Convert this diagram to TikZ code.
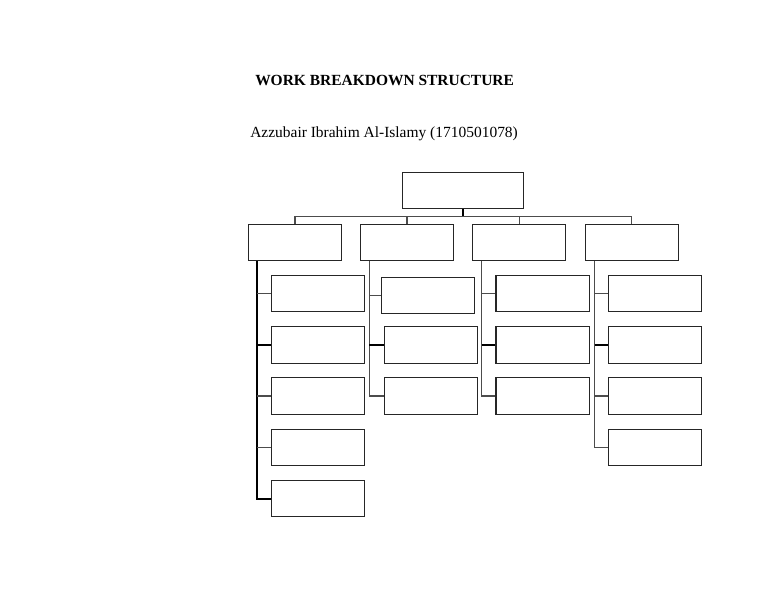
\documentclass[tikz,border=0pt]{standalone}
\usepackage{fontspec}
\setmainfont{Liberation Serif}
\tikzset{wbsbox/.style={draw=black!85,line width=0.8pt,inner sep=0pt,minimum width=69.8pt,minimum height=27.2pt}}
\tikzset{topbox/.style={wbsbox,minimum width=90.8pt}}
\tikzset{wbsline/.style={draw=black!70,line width=0.9pt}}
\tikzset{boldline/.style={draw=black,line width=1.4pt}}
\tikzset{heading/.style={font=\fontsize{11.6}{14}\selectfont,anchor=base west,inner sep=0pt}}

\begin{document}
\begin{tikzpicture}[x=0.75pt,y=-0.75pt]
	\useasboundingbox (0,0) rectangle (768,594);

	\node[heading,font=\fontsize{11.6}{14}\selectfont\bfseries] (title) at (255,85) {WORK BREAKDOWN STRUCTURE};
	\node[heading] (author) at (250,137.5) {Azzubair Ibrahim Al-Islamy (1710501078)};

	\node[topbox] (top) at (463,190.5) {}; % project

	\node[wbsbox] (b1) at (295,242.4) {};
	\node[wbsbox] (b2) at (407,242.4) {};
	\node[wbsbox] (b3) at (519.3,242.4) {};
	\node[wbsbox] (b4) at (631.7,242.4) {}; % level two

	\node[wbsbox] (b11) at (318.2,293.8) {};
	\node[wbsbox] (b12) at (318.2,345) {};
	\node[wbsbox] (b13) at (318.2,396) {};
	\node[wbsbox] (b14) at (318.2,447.7) {};
	\node[wbsbox] (b15) at (318.2,498.8) {};

	\node[wbsbox] (b21) at (428.3,295.8) {};
	\node[wbsbox] (b22) at (430.7,345) {};
	\node[wbsbox] (b23) at (430.7,396) {};

	\node[wbsbox] (b31) at (542.5,293.8) {};
	\node[wbsbox] (b32) at (542.5,345) {};
	\node[wbsbox] (b33) at (542.5,396) {};

	\node[wbsbox] (b41) at (654.7,293.8) {};
	\node[wbsbox] (b42) at (654.7,345) {};
	\node[wbsbox] (b43) at (654.7,396) {};
	\node[wbsbox] (b44) at (654.7,447.7) {};

	\coordinate (bus) at (0,216.7);
	\draw[boldline,line width=1.1pt] (top.south) -- (top.south |- bus);
	\draw[wbsline] (b1.north) |- (b4.north |- bus) -- (b4.north);
	\draw[wbsline] (b2.north) -- (b2.north |- bus);
	\draw[wbsline] (b3.north) -- (b3.north |- bus);

	\coordinate (c1) at ([xshift=7pt]b1.south west);
	\coordinate (c2) at ([xshift=7pt]b2.south west);
	\coordinate (c3) at ([xshift=7pt]b3.south west);
	\coordinate (c4) at ([xshift=7.5pt]b4.south west); % spines

	\draw[boldline] (c1) |- (b15.west);
	\draw[wbsline] (c1 |- b11.west) -- (b11.west);
	\draw[boldline] (c1 |- b12.west) -- (b12.west);
	\draw[wbsline] (c1 |- b13.west) -- (b13.west);
	\draw[wbsline] (c1 |- b14.west) -- (b14.west);

	\draw[wbsline] (c2) |- (b23.west);
	\draw[wbsline] (c2 |- b21.west) -- (b21.west);
	\draw[boldline] (c2 |- b22.west) -- (b22.west);

	\draw[wbsline] (c3) |- (b33.west);
	\draw[wbsline] (c3 |- b31.west) -- (b31.west);
	\draw[boldline] (c3 |- b32.west) -- (b32.west);

	\draw[wbsline] (c4) |- (b44.west);
	\draw[wbsline] (c4 |- b41.west) -- (b41.west);
	\draw[boldline] (c4 |- b42.west) -- (b42.west);
	\draw[wbsline] (c4 |- b43.west) -- (b43.west);
\end{tikzpicture}
\end{document}
